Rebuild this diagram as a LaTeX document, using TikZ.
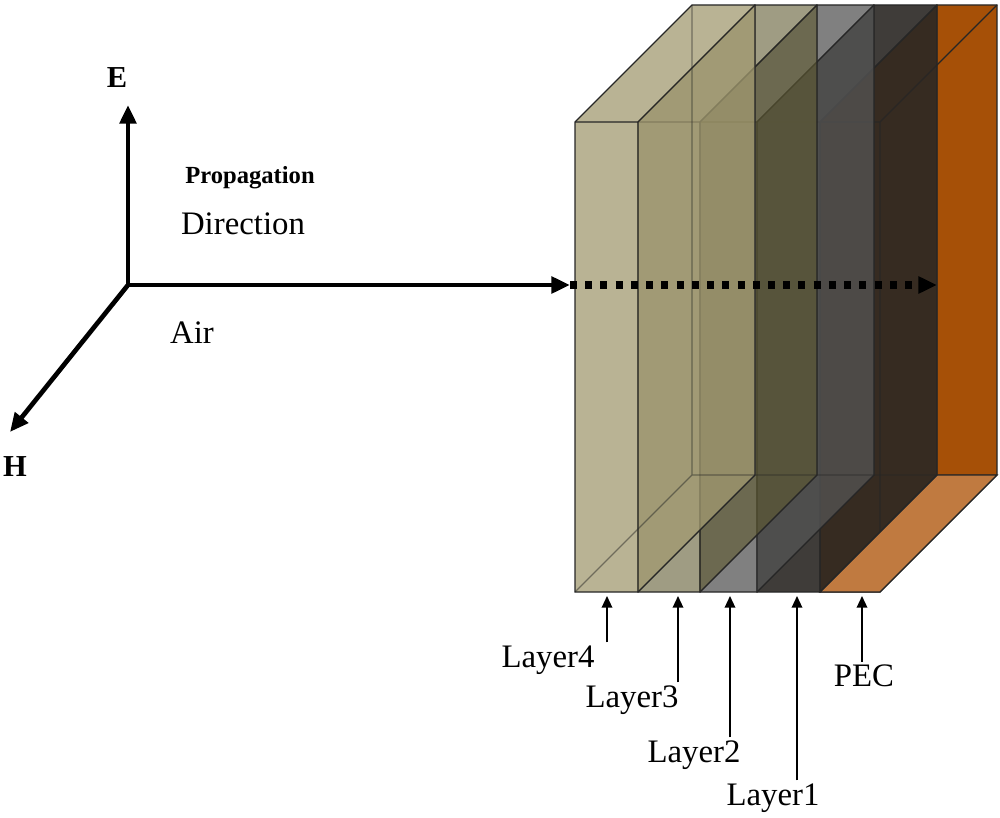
\documentclass[tikz,border=0pt]{standalone}
\usepackage{fontspec}
\setmainfont{Liberation Serif}
\usetikzlibrary{arrows.meta}
\definecolor{cpec}{HTML}{A65007}
\definecolor{cpecb}{HTML}{C07A40}
\definecolor{cl1}{HTML}{2A2724}
\definecolor{cl2}{HTML}{555555}
\definecolor{cl3}{HTML}{5F5A30}
\definecolor{cl4}{HTML}{A29A70}
\begin{document}
\begin{tikzpicture}[x=0.03cm,y=-0.03cm,
  lbl/.style={font=\fontsize{28}{32}\selectfont,inner sep=0pt},
  ax/.style={line width=4pt,-{Triangle[length=16pt,width=14pt]}},
  lab/.style={line width=1.5pt,-{Triangle[length=10pt,width=9pt]}},
  edge/.style={draw=black!85,line width=1pt}]
\useasboundingbox (0,0) rectangle (1000,818);
\def\slab#1#2#3#4{%
  \fill[#3,opacity=#4] (#1,592)--(#2,592)--(#2+117,475)--(#2+117,5)--(#1+117,5)--(#1,122)--cycle;
  \draw[edge] (#1,592)--(#2,592)--(#2+117,475)--(#2+117,5)--(#1+117,5)--(#1,122)--cycle;
  \draw[edge] (#1,122)--(#2,122)--(#2,592) (#2,122)--(#2+117,5);
  \draw[edge,opacity=0.5] (#1,592)--(#1+117,475)--(#2+117,475) (#1+117,475)--(#1+117,5);}
\slab{820}{880}{cpec}{1}
\fill[cpecb] (820,592)--(880,592)--(997,475)--(937,475)--cycle;
\draw[edge] (820,592)--(880,592)--(997,475)--(937,475)--cycle;
\slab{757}{820}{cl1}{0.9}
\slab{700}{757}{cl2}{0.75}
\slab{638}{700}{cl3}{0.6}
\slab{575}{638}{cl4}{0.75}
% axes
\coordinate (O) at (128,285);
\node[lbl,font=\fontsize{26}{30}\selectfont\bfseries] (E) at (117,78) {E};
\node[lbl,font=\fontsize{26}{30}\selectfont\bfseries] (H) at (15,467) {H};
\coordinate (Eend) at (128,105);
\draw[ax] (O) -- (Eend);
\coordinate (Hend) at (10,432);
\draw[ax] (O) -- (Hend);
\coordinate (P1) at (570,285);
\coordinate (P2) at (937,285);
\draw[ax] (O) -- (P1);
\draw[line width=6pt,dash pattern=on 6pt off 7pt,-{Triangle[length=16pt,width=14pt]}] (P1) -- (P2);
\node[lbl,font=\fontsize{21}{24}\selectfont\bfseries] (prop) at (250,178) {Propagation};
\node[lbl] (dir) at (243,224) {Direction};
\node[lbl] (air) at (192,333) {Air};
% labels
\node[lbl] (L4) at (548,660) {Layer4};
\node[lbl] (L3) at (632,700) {Layer3};
\node[lbl] (L2) at (694,755) {Layer2};
\node[lbl] (L1) at (773,798) {Layer1};
\node[lbl] (PEC) at (864,676) {PEC};
\coordinate (a4) at (607,596);
\coordinate (a3) at (678,596);
\coordinate (a2) at (730,596);
\coordinate (a1) at (797,596);
\coordinate (a0) at (862,596);
\draw[lab] (L4.north -| a4) ++(0,-3) -- (a4);
\draw[lab] (L3.north -| a3) ++(0,-3) -- (a3);
\draw[lab] (L2.north -| a2) ++(0,-3) -- (a2);
\draw[lab] (L1.north -| a1) ++(0,-3) -- (a1);
\draw[lab] (PEC.north -| a0) ++(0,-3) -- (a0);
\end{tikzpicture}
\end{document}
